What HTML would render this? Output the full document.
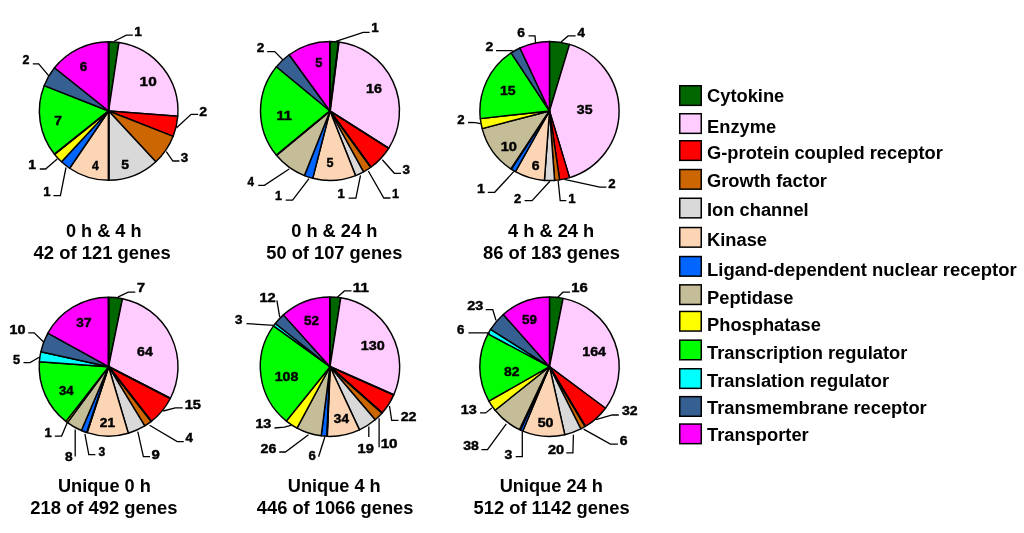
<!DOCTYPE html>
<html><head><meta charset="utf-8"><style>
html,body{margin:0;padding:0;background:#fff;overflow:hidden;}
svg{display:block;}
path{stroke:#000;stroke-width:1.45;stroke-linejoin:round;}
.sq{stroke:#000;stroke-width:1.5;}
.tk{stroke:#000;stroke-width:2.0;}
.ld{fill:none;stroke:#000;stroke-width:1.3;}
text{font-family:"Liberation Sans",sans-serif;font-weight:bold;fill:#000;}
.n{font-size:13.2px;stroke:#000;stroke-width:0.45;}
.ti{font-size:18.8px;}
.lg{font-size:18.8px;}
</style></head><body>
<svg width="1024" height="533" viewBox="0 0 1024 533">
<path d="M108.65,111.00L108.65,41.70A69.30,69.30 0 0 1 118.98,42.47Z" fill="#006600"/>
<path d="M108.65,111.00L118.98,42.47A69.30,69.30 0 0 1 177.76,116.18Z" fill="#FFCCFF"/>
<path d="M108.65,111.00L177.76,116.18A69.30,69.30 0 0 1 173.16,136.32Z" fill="#FF0000"/>
<path d="M108.65,111.00L173.16,136.32A69.30,69.30 0 0 1 155.79,161.80Z" fill="#CC6600"/>
<path d="M108.65,111.00L155.79,161.80A69.30,69.30 0 0 1 108.65,180.30Z" fill="#D9D9D9"/>
<path d="M108.65,111.00L108.65,180.30A69.30,69.30 0 0 1 69.61,168.26Z" fill="#FCD5B5"/>
<path d="M108.65,111.00L69.61,168.26A69.30,69.30 0 0 1 61.51,161.80Z" fill="#0066FF"/>
<path d="M108.65,111.00L61.51,161.80A69.30,69.30 0 0 1 54.47,154.21Z" fill="#FFFF00"/>
<path d="M108.65,111.00L54.47,154.21A69.30,69.30 0 0 1 44.14,85.68Z" fill="#00FF00"/>
<path d="M108.65,111.00L44.14,85.68A69.30,69.30 0 0 1 54.47,67.79Z" fill="#376092"/>
<path d="M108.65,111.00L54.47,67.79A69.30,69.30 0 0 1 108.65,41.70Z" fill="#FF00FF"/>
<line x1="108.65" y1="111.00" x2="108.65" y2="41.70" class="tk"/>
<line x1="108.65" y1="111.00" x2="108.65" y2="180.30" class="tk"/>
<line x1="108.65" y1="111.00" x2="54.49" y2="154.23" class="tk"/>
<text class="n" x="139.64" y="85.80" textLength="17.08" lengthAdjust="spacingAndGlyphs">10</text>
<text class="n" x="121.38" y="169.10" textLength="7.77" lengthAdjust="spacingAndGlyphs">5</text>
<text class="n" x="91.90" y="170.00" textLength="6.82" lengthAdjust="spacingAndGlyphs">4</text>
<text class="n" x="54.31" y="125.00" textLength="7.75" lengthAdjust="spacingAndGlyphs">7</text>
<text class="n" x="79.88" y="70.70" textLength="7.45" lengthAdjust="spacingAndGlyphs">6</text>
<polyline class="ld" points="114.10,41.25 126.40,35.20 132.80,35.20"/>
<text class="n" x="134.35" y="35.70" textLength="7.59" lengthAdjust="spacingAndGlyphs">1</text>
<polyline class="ld" points="176.60,127.80 191.10,114.30 198.20,114.30"/>
<text class="n" x="199.26" y="115.60" textLength="7.79" lengthAdjust="spacingAndGlyphs">2</text>
<polyline class="ld" points="166.30,151.60 172.90,161.00 179.50,161.00"/>
<text class="n" x="180.79" y="161.90" textLength="7.44" lengthAdjust="spacingAndGlyphs">3</text>
<polyline class="ld" points="66.00,167.50 60.40,195.60 53.40,195.60"/>
<text class="n" x="43.28" y="195.60" textLength="7.30" lengthAdjust="spacingAndGlyphs">1</text>
<polyline class="ld" points="57.20,159.10 45.60,169.00 39.75,169.00"/>
<text class="n" x="28.23" y="169.40" textLength="7.71" lengthAdjust="spacingAndGlyphs">1</text>
<polyline class="ld" points="48.60,75.70 38.70,63.80 32.80,63.80"/>
<text class="n" x="22.51" y="64.00" textLength="6.90" lengthAdjust="spacingAndGlyphs">2</text>
<text class="ti" x="65.99" y="236.75" textLength="75.58" lengthAdjust="spacingAndGlyphs">0 h &amp; 4 h</text>
<text class="ti" x="33.60" y="258.75" textLength="137.15" lengthAdjust="spacingAndGlyphs">42 of 121 genes</text>
<path d="M330.00,111.00L330.00,41.50A69.50,69.50 0 0 1 338.71,42.05Z" fill="#006600"/>
<path d="M330.00,111.00L338.71,42.05A69.50,69.50 0 0 1 388.68,148.24Z" fill="#FFCCFF"/>
<path d="M330.00,111.00L388.68,148.24A69.50,69.50 0 0 1 370.85,167.23Z" fill="#FF0000"/>
<path d="M330.00,111.00L370.85,167.23A69.50,69.50 0 0 1 363.48,171.90Z" fill="#CC6600"/>
<path d="M330.00,111.00L363.48,171.90A69.50,69.50 0 0 1 355.58,175.62Z" fill="#D9D9D9"/>
<path d="M330.00,111.00L355.58,175.62A69.50,69.50 0 0 1 312.72,178.32Z" fill="#FCD5B5"/>
<path d="M330.00,111.00L312.72,178.32A69.50,69.50 0 0 1 304.42,175.62Z" fill="#0066FF"/>
<path d="M330.00,111.00L304.42,175.62A69.50,69.50 0 0 1 276.45,155.30Z" fill="#C4BD97"/>
<path d="M330.00,111.00L276.45,155.30A69.50,69.50 0 0 1 276.45,66.70Z" fill="#00FF00"/>
<path d="M330.00,111.00L276.45,66.70A69.50,69.50 0 0 1 289.15,54.77Z" fill="#376092"/>
<path d="M330.00,111.00L289.15,54.77A69.50,69.50 0 0 1 330.00,41.50Z" fill="#FF00FF"/>
<line x1="330.00" y1="111.00" x2="330.00" y2="41.50" class="tk"/>
<line x1="330.00" y1="111.00" x2="338.71" y2="42.05" class="tk"/>
<line x1="330.00" y1="111.00" x2="388.68" y2="148.24" class="tk"/>
<line x1="330.00" y1="111.00" x2="370.85" y2="167.23" class="tk"/>
<line x1="330.00" y1="111.00" x2="276.45" y2="155.30" class="tk"/>
<text class="n" x="366.01" y="93.40" textLength="15.85" lengthAdjust="spacingAndGlyphs">16</text>
<text class="n" x="326.50" y="166.60" textLength="7.01" lengthAdjust="spacingAndGlyphs">5</text>
<text class="n" x="276.59" y="119.70" textLength="15.37" lengthAdjust="spacingAndGlyphs">11</text>
<text class="n" x="315.20" y="67.20" textLength="7.12" lengthAdjust="spacingAndGlyphs">5</text>
<polyline class="ld" points="335.90,41.30 363.20,32.30 369.70,32.30"/>
<text class="n" x="371.36" y="31.50" textLength="7.47" lengthAdjust="spacingAndGlyphs">1</text>
<polyline class="ld" points="382.30,159.80 394.30,173.30 401.00,173.30"/>
<text class="n" x="402.59" y="173.70" textLength="7.44" lengthAdjust="spacingAndGlyphs">3</text>
<polyline class="ld" points="368.30,171.00 383.80,198.00 390.50,198.00"/>
<text class="n" x="392.00" y="198.30" textLength="7.12" lengthAdjust="spacingAndGlyphs">1</text>
<polyline class="ld" points="360.50,175.30 355.90,198.10 348.60,198.10"/>
<text class="n" x="337.59" y="198.10" textLength="7.24" lengthAdjust="spacingAndGlyphs">1</text>
<polyline class="ld" points="309.00,178.70 292.60,200.20 285.70,200.20"/>
<text class="n" x="274.91" y="200.20" textLength="7.00" lengthAdjust="spacingAndGlyphs">1</text>
<polyline class="ld" points="289.20,169.00 264.40,185.40 258.20,185.40"/>
<text class="n" x="247.50" y="186.30" textLength="6.53" lengthAdjust="spacingAndGlyphs">4</text>
<polyline class="ld" points="282.80,59.70 274.70,51.60 267.20,51.60"/>
<text class="n" x="256.83" y="52.20" textLength="7.51" lengthAdjust="spacingAndGlyphs">2</text>
<text class="ti" x="291.18" y="236.75" textLength="86.20" lengthAdjust="spacingAndGlyphs">0 h &amp; 24 h</text>
<text class="ti" x="266.31" y="258.75" textLength="136.13" lengthAdjust="spacingAndGlyphs">50 of 107 genes</text>
<path d="M549.50,111.00L549.50,41.40A69.60,69.60 0 0 1 569.55,44.35Z" fill="#006600"/>
<path d="M549.50,111.00L569.55,44.35A69.60,69.60 0 0 1 569.55,177.65Z" fill="#FFCCFF"/>
<path d="M549.50,111.00L569.55,177.65A69.60,69.60 0 0 1 559.63,179.86Z" fill="#FF0000"/>
<path d="M549.50,111.00L559.63,179.86A69.60,69.60 0 0 1 554.58,180.41Z" fill="#CC6600"/>
<path d="M549.50,111.00L554.58,180.41A69.60,69.60 0 0 1 544.42,180.41Z" fill="#D9D9D9"/>
<path d="M549.50,111.00L544.42,180.41A69.60,69.60 0 0 1 515.44,171.69Z" fill="#FCD5B5"/>
<path d="M549.50,111.00L515.44,171.69A69.60,69.60 0 0 1 511.10,169.05Z" fill="#0066FF"/>
<path d="M549.50,111.00L511.10,169.05A69.60,69.60 0 0 1 482.16,128.60Z" fill="#C4BD97"/>
<path d="M549.50,111.00L482.16,128.60A69.60,69.60 0 0 1 480.32,118.61Z" fill="#FFFF00"/>
<path d="M549.50,111.00L480.32,118.61A69.60,69.60 0 0 1 511.10,52.95Z" fill="#00FF00"/>
<path d="M549.50,111.00L511.10,52.95A69.60,69.60 0 0 1 519.96,47.98Z" fill="#376092"/>
<path d="M549.50,111.00L519.96,47.98A69.60,69.60 0 0 1 549.50,41.40Z" fill="#FF00FF"/>
<line x1="549.50" y1="111.00" x2="511.09" y2="169.04" class="tk"/>
<text class="n" x="576.88" y="114.40" textLength="15.67" lengthAdjust="spacingAndGlyphs">35</text>
<text class="n" x="531.76" y="170.00" textLength="7.79" lengthAdjust="spacingAndGlyphs">6</text>
<text class="n" x="500.69" y="151.00" textLength="16.20" lengthAdjust="spacingAndGlyphs">10</text>
<text class="n" x="500.02" y="94.70" textLength="15.63" lengthAdjust="spacingAndGlyphs">15</text>
<polyline class="ld" points="561.00,42.10 568.10,35.90 575.60,35.90"/>
<text class="n" x="577.50" y="36.90" textLength="7.42" lengthAdjust="spacingAndGlyphs">4</text>
<polyline class="ld" points="564.30,179.40 599.80,187.20 606.40,187.20"/>
<text class="n" x="608.29" y="187.60" textLength="7.34" lengthAdjust="spacingAndGlyphs">2</text>
<polyline class="ld" points="558.10,180.40 560.20,200.60 566.30,200.60"/>
<text class="n" x="568.17" y="202.90" textLength="7.36" lengthAdjust="spacingAndGlyphs">1</text>
<polyline class="ld" points="549.90,181.20 532.10,200.60 524.60,200.60"/>
<text class="n" x="514.00" y="202.90" textLength="7.12" lengthAdjust="spacingAndGlyphs">2</text>
<polyline class="ld" points="514.40,170.90 494.70,192.30 487.80,192.30"/>
<text class="n" x="476.92" y="193.20" textLength="7.83" lengthAdjust="spacingAndGlyphs">1</text>
<polyline class="ld" points="480.50,123.60 475.30,122.65 468.10,122.50"/>
<text class="n" x="457.19" y="123.85" textLength="7.34" lengthAdjust="spacingAndGlyphs">2</text>
<polyline class="ld" points="513.50,52.30 512.00,50.60 496.00,50.60"/>
<text class="n" x="485.47" y="51.00" textLength="7.67" lengthAdjust="spacingAndGlyphs">2</text>
<polyline class="ld" points="535.60,42.90 535.00,35.90 528.50,35.90"/>
<text class="n" x="517.37" y="36.90" textLength="7.67" lengthAdjust="spacingAndGlyphs">6</text>
<text class="ti" x="508.00" y="236.75" textLength="86.13" lengthAdjust="spacingAndGlyphs">4 h &amp; 24 h</text>
<text class="ti" x="482.93" y="258.75" textLength="137.02" lengthAdjust="spacingAndGlyphs">86 of 183 genes</text>
<path d="M108.60,366.70L108.60,297.30A69.40,69.40 0 0 1 122.51,298.71Z" fill="#006600"/>
<path d="M108.60,366.70L122.51,298.71A69.40,69.40 0 0 1 170.30,398.47Z" fill="#FFCCFF"/>
<path d="M108.60,366.70L170.30,398.47A69.40,69.40 0 0 1 151.31,421.40Z" fill="#FF0000"/>
<path d="M108.60,366.70L151.31,421.40A69.40,69.40 0 0 1 144.73,425.95Z" fill="#CC6600"/>
<path d="M108.60,366.70L144.73,425.95A69.40,69.40 0 0 1 128.33,433.24Z" fill="#D9D9D9"/>
<path d="M108.60,366.70L128.33,433.24A69.40,69.40 0 0 1 86.96,432.64Z" fill="#FCD5B5"/>
<path d="M108.60,366.70L86.96,432.64A69.40,69.40 0 0 1 81.35,430.53Z" fill="#0066FF"/>
<path d="M108.60,366.70L81.35,430.53A69.40,69.40 0 0 1 67.48,422.61Z" fill="#C4BD97"/>
<path d="M108.60,366.70L67.48,422.61A69.40,69.40 0 0 1 65.89,421.40Z" fill="#FFFF00"/>
<path d="M108.60,366.70L65.89,421.40A69.40,69.40 0 0 1 39.38,361.70Z" fill="#00FF00"/>
<path d="M108.60,366.70L39.38,361.70A69.40,69.40 0 0 1 40.82,351.81Z" fill="#00FFFF"/>
<path d="M108.60,366.70L40.82,351.81A69.40,69.40 0 0 1 47.84,333.16Z" fill="#376092"/>
<path d="M108.60,366.70L47.84,333.16A69.40,69.40 0 0 1 108.60,297.30Z" fill="#FF00FF"/>
<line x1="108.60" y1="366.70" x2="108.60" y2="297.30" class="tk"/>
<line x1="108.60" y1="366.70" x2="170.33" y2="398.42" class="tk"/>
<line x1="108.60" y1="366.70" x2="151.33" y2="421.39" class="tk"/>
<line x1="108.60" y1="366.70" x2="86.92" y2="432.63" class="tk"/>
<text class="n" x="137.06" y="356.40" textLength="15.75" lengthAdjust="spacingAndGlyphs">64</text>
<text class="n" x="99.87" y="427.10" textLength="15.22" lengthAdjust="spacingAndGlyphs">21</text>
<text class="n" x="58.89" y="395.30" textLength="14.62" lengthAdjust="spacingAndGlyphs">34</text>
<text class="n" x="76.39" y="326.90" textLength="15.17" lengthAdjust="spacingAndGlyphs">37</text>
<polyline class="ld" points="117.80,297.20 128.20,292.20 135.30,292.20"/>
<text class="n" x="137.05" y="292.20" textLength="8.04" lengthAdjust="spacingAndGlyphs">7</text>
<polyline class="ld" points="163.10,411.00 175.30,407.80 182.80,407.80"/>
<text class="n" x="184.69" y="409.10" textLength="16.28" lengthAdjust="spacingAndGlyphs">15</text>
<polyline class="ld" points="149.60,425.25 177.20,441.60 183.75,441.60"/>
<text class="n" x="185.60" y="442.10" textLength="7.42" lengthAdjust="spacingAndGlyphs">4</text>
<polyline class="ld" points="137.80,431.60 143.40,456.60 150.00,456.60"/>
<text class="n" x="151.43" y="459.00" textLength="8.34" lengthAdjust="spacingAndGlyphs">9</text>
<polyline class="ld" points="84.90,433.90 88.80,454.70 95.40,454.70"/>
<text class="n" x="98.46" y="455.50" textLength="6.74" lengthAdjust="spacingAndGlyphs">3</text>
<polyline class="ld" points="75.20,429.40 75.20,456.60"/>
<text class="n" x="65.07" y="460.50" textLength="7.67" lengthAdjust="spacingAndGlyphs">8</text>
<polyline class="ld" points="67.20,422.80 61.60,436.10 54.80,436.10"/>
<text class="n" x="44.39" y="436.70" textLength="7.24" lengthAdjust="spacingAndGlyphs">1</text>
<polyline class="ld" points="39.80,357.00 30.00,362.60 23.50,362.60"/>
<text class="n" x="12.90" y="363.50" textLength="7.12" lengthAdjust="spacingAndGlyphs">5</text>
<polyline class="ld" points="43.60,342.00 34.20,332.90 28.20,332.90"/>
<text class="n" x="9.40" y="333.90" textLength="15.98" lengthAdjust="spacingAndGlyphs">10</text>
<text class="ti" x="57.95" y="492.00" textLength="92.83" lengthAdjust="spacingAndGlyphs">Unique 0 h</text>
<text class="ti" x="30.22" y="513.70" textLength="147.32" lengthAdjust="spacingAndGlyphs">218 of 492 genes</text>
<path d="M330.00,366.70L330.00,297.00A69.70,69.70 0 0 1 340.76,297.84Z" fill="#006600"/>
<path d="M330.00,366.70L340.76,297.84A69.70,69.70 0 0 1 393.77,394.84Z" fill="#FFCCFF"/>
<path d="M330.00,366.70L393.77,394.84A69.70,69.70 0 0 1 382.15,412.95Z" fill="#FF0000"/>
<path d="M330.00,366.70L382.15,412.95A69.70,69.70 0 0 1 375.14,419.81Z" fill="#CC6600"/>
<path d="M330.00,366.70L375.14,419.81A69.70,69.70 0 0 1 359.48,429.86Z" fill="#D9D9D9"/>
<path d="M330.00,366.70L359.48,429.86A69.70,69.70 0 0 1 327.06,436.34Z" fill="#FCD5B5"/>
<path d="M330.00,366.70L327.06,436.34A69.70,69.70 0 0 1 321.19,435.84Z" fill="#0066FF"/>
<path d="M330.00,366.70L321.19,435.84A69.70,69.70 0 0 1 297.01,428.10Z" fill="#C4BD97"/>
<path d="M330.00,366.70L297.01,428.10A69.70,69.70 0 0 1 286.38,421.06Z" fill="#FFFF00"/>
<path d="M330.00,366.70L286.38,421.06A69.70,69.70 0 0 1 273.55,325.81Z" fill="#00FF00"/>
<path d="M330.00,366.70L273.55,325.81A69.70,69.70 0 0 1 275.33,323.46Z" fill="#00FFFF"/>
<path d="M330.00,366.70L275.33,323.46A69.70,69.70 0 0 1 283.39,314.88Z" fill="#376092"/>
<path d="M330.00,366.70L283.39,314.88A69.70,69.70 0 0 1 330.00,297.00Z" fill="#FF00FF"/>
<line x1="330.00" y1="366.70" x2="330.00" y2="297.00" class="tk"/>
<line x1="330.00" y1="366.70" x2="393.77" y2="394.83" class="tk"/>
<line x1="330.00" y1="366.70" x2="382.12" y2="412.98" class="tk"/>
<line x1="330.00" y1="366.70" x2="327.08" y2="436.34" class="tk"/>
<text class="n" x="360.80" y="349.80" textLength="23.98" lengthAdjust="spacingAndGlyphs">130</text>
<text class="n" x="333.89" y="422.90" textLength="15.13" lengthAdjust="spacingAndGlyphs">34</text>
<text class="n" x="274.71" y="381.00" textLength="23.64" lengthAdjust="spacingAndGlyphs">108</text>
<text class="n" x="303.99" y="325.10" textLength="14.94" lengthAdjust="spacingAndGlyphs">52</text>
<polyline class="ld" points="337.30,297.30 344.40,290.90 351.50,290.90"/>
<text class="n" x="352.86" y="292.20" textLength="15.92" lengthAdjust="spacingAndGlyphs">11</text>
<polyline class="ld" points="389.50,406.00 391.70,420.40 398.50,420.40"/>
<text class="n" x="400.66" y="421.00" textLength="15.80" lengthAdjust="spacingAndGlyphs">22</text>
<polyline class="ld" points="379.10,418.20 379.10,447.30"/>
<text class="n" x="380.65" y="448.20" textLength="16.97" lengthAdjust="spacingAndGlyphs">10</text>
<polyline class="ld" points="368.80,426.60 368.80,437.00"/>
<text class="n" x="357.59" y="452.90" textLength="16.28" lengthAdjust="spacingAndGlyphs">19</text>
<polyline class="ld" points="324.80,437.00 318.60,456.70"/>
<text class="n" x="308.39" y="459.50" textLength="7.34" lengthAdjust="spacingAndGlyphs">6</text>
<polyline class="ld" points="308.50,434.70 285.40,452.00 279.20,452.00"/>
<text class="n" x="260.56" y="452.90" textLength="15.80" lengthAdjust="spacingAndGlyphs">26</text>
<polyline class="ld" points="291.00,425.30 284.40,427.20 274.50,428.00"/>
<text class="n" x="255.41" y="428.00" textLength="15.85" lengthAdjust="spacingAndGlyphs">13</text>
<polyline class="ld" points="274.10,325.40 246.50,323.60"/>
<text class="n" x="235.09" y="324.10" textLength="7.44" lengthAdjust="spacingAndGlyphs">3</text>
<polyline class="ld" points="279.70,317.20 276.90,300.30"/>
<text class="n" x="259.49" y="301.60" textLength="16.28" lengthAdjust="spacingAndGlyphs">12</text>
<text class="ti" x="287.85" y="492.00" textLength="92.88" lengthAdjust="spacingAndGlyphs">Unique 4 h</text>
<text class="ti" x="256.80" y="513.70" textLength="156.64" lengthAdjust="spacingAndGlyphs">446 of 1066 genes</text>
<path d="M549.50,366.70L549.50,297.00A69.70,69.70 0 0 1 563.10,298.34Z" fill="#006600"/>
<path d="M549.50,366.70L563.10,298.34A69.70,69.70 0 0 1 605.48,408.22Z" fill="#FFCCFF"/>
<path d="M549.50,366.70L605.48,408.22A69.70,69.70 0 0 1 585.33,426.48Z" fill="#FF0000"/>
<path d="M549.50,366.70L585.33,426.48A69.70,69.70 0 0 1 580.84,428.96Z" fill="#CC6600"/>
<path d="M549.50,366.70L580.84,428.96A69.70,69.70 0 0 1 564.77,434.71Z" fill="#D9D9D9"/>
<path d="M549.50,366.70L564.77,434.71A69.70,69.70 0 0 1 522.83,431.09Z" fill="#FCD5B5"/>
<path d="M549.50,366.70L522.83,431.09A69.70,69.70 0 0 1 520.47,430.07Z" fill="#0066FF"/>
<path d="M549.50,366.70L520.47,430.07A69.70,69.70 0 0 1 495.08,410.25Z" fill="#C4BD97"/>
<path d="M549.50,366.70L495.08,410.25A69.70,69.70 0 0 1 488.85,401.06Z" fill="#FFFF00"/>
<path d="M549.50,366.70L488.85,401.06A69.70,69.70 0 0 1 488.03,333.84Z" fill="#00FF00"/>
<path d="M549.50,366.70L488.03,333.84A69.70,69.70 0 0 1 490.61,329.41Z" fill="#00FFFF"/>
<path d="M549.50,366.70L490.61,329.41A69.70,69.70 0 0 1 503.33,314.49Z" fill="#376092"/>
<path d="M549.50,366.70L503.33,314.49A69.70,69.70 0 0 1 549.50,297.00Z" fill="#FF00FF"/>
<line x1="549.50" y1="366.70" x2="585.29" y2="426.51" class="tk"/>
<line x1="549.50" y1="366.70" x2="519.71" y2="429.71" class="tk"/>
<text class="n" x="582.31" y="356.00" textLength="23.70" lengthAdjust="spacingAndGlyphs">164</text>
<text class="n" x="537.68" y="427.20" textLength="15.80" lengthAdjust="spacingAndGlyphs">50</text>
<text class="n" x="503.97" y="376.10" textLength="15.48" lengthAdjust="spacingAndGlyphs">82</text>
<text class="n" x="522.09" y="323.60" textLength="14.94" lengthAdjust="spacingAndGlyphs">59</text>
<polyline class="ld" points="557.80,297.30 562.90,292.20 570.00,292.20"/>
<text class="n" x="571.37" y="292.40" textLength="16.50" lengthAdjust="spacingAndGlyphs">16</text>
<polyline class="ld" points="595.90,419.70 612.30,415.00 618.80,415.00"/>
<text class="n" x="621.98" y="415.40" textLength="15.57" lengthAdjust="spacingAndGlyphs">32</text>
<polyline class="ld" points="583.60,429.10 610.40,444.10 617.90,444.10"/>
<text class="n" x="619.86" y="445.40" textLength="7.79" lengthAdjust="spacingAndGlyphs">6</text>
<polyline class="ld" points="573.40,434.70 572.90,452.90 566.30,452.90"/>
<text class="n" x="547.95" y="453.90" textLength="16.14" lengthAdjust="spacingAndGlyphs">20</text>
<polyline class="ld" points="522.30,431.30 522.30,456.70 515.70,456.70"/>
<text class="n" x="504.58" y="458.60" textLength="7.77" lengthAdjust="spacingAndGlyphs">3</text>
<polyline class="ld" points="506.30,423.80 487.50,449.70 481.50,449.70"/>
<text class="n" x="463.28" y="450.10" textLength="15.57" lengthAdjust="spacingAndGlyphs">38</text>
<polyline class="ld" points="491.70,407.90 485.70,412.90 480.00,412.90"/>
<text class="n" x="460.70" y="413.50" textLength="15.95" lengthAdjust="spacingAndGlyphs">13</text>
<polyline class="ld" points="489.80,333.50 488.50,332.90 468.40,332.90"/>
<text class="n" x="457.09" y="333.50" textLength="7.34" lengthAdjust="spacingAndGlyphs">6</text>
<polyline class="ld" points="496.00,320.40 492.80,309.70 485.70,309.70"/>
<text class="n" x="467.35" y="310.00" textLength="15.90" lengthAdjust="spacingAndGlyphs">23</text>
<text class="ti" x="499.65" y="492.00" textLength="103.23" lengthAdjust="spacingAndGlyphs">Unique 24 h</text>
<text class="ti" x="473.46" y="513.70" textLength="156.18" lengthAdjust="spacingAndGlyphs">512 of 1142 genes</text>
<rect x="679.75" y="85.75" width="21.5" height="19.6" fill="#006600" class="sq"/>
<text class="lg" x="707.00" y="102.00" textLength="77.28" lengthAdjust="spacingAndGlyphs">Cytokine</text>
<rect x="679.75" y="113.75" width="21.5" height="19.6" fill="#FFCCFF" class="sq"/>
<text class="lg" x="707.00" y="132.60" textLength="69.16" lengthAdjust="spacingAndGlyphs">Enzyme</text>
<rect x="679.75" y="140.75" width="21.5" height="19.6" fill="#FF0000" class="sq"/>
<text class="lg" x="707.00" y="159.40" textLength="235.89" lengthAdjust="spacingAndGlyphs">G-protein coupled receptor</text>
<rect x="679.75" y="169.55" width="21.5" height="19.6" fill="#CC6600" class="sq"/>
<text class="lg" x="707.00" y="187.40" textLength="119.97" lengthAdjust="spacingAndGlyphs">Growth factor</text>
<rect x="679.75" y="198.25" width="21.5" height="19.6" fill="#D9D9D9" class="sq"/>
<text class="lg" x="707.00" y="216.00" textLength="101.68" lengthAdjust="spacingAndGlyphs">Ion channel</text>
<rect x="679.75" y="227.55" width="21.5" height="19.6" fill="#FCD5B5" class="sq"/>
<text class="lg" x="707.00" y="245.70" textLength="60.01" lengthAdjust="spacingAndGlyphs">Kinase</text>
<rect x="679.75" y="256.55" width="21.5" height="19.6" fill="#0066FF" class="sq"/>
<text class="lg" x="706.99" y="275.60" textLength="309.67" lengthAdjust="spacingAndGlyphs">Ligand-dependent nuclear receptor</text>
<rect x="679.75" y="284.85" width="21.5" height="19.6" fill="#C4BD97" class="sq"/>
<text class="lg" x="707.00" y="303.80" textLength="86.45" lengthAdjust="spacingAndGlyphs">Peptidase</text>
<rect x="679.75" y="311.45" width="21.5" height="19.6" fill="#FFFF00" class="sq"/>
<text class="lg" x="707.00" y="330.80" textLength="113.90" lengthAdjust="spacingAndGlyphs">Phosphatase</text>
<rect x="679.75" y="340.15" width="21.5" height="19.6" fill="#00FF00" class="sq"/>
<text class="lg" x="707.00" y="359.20" textLength="200.32" lengthAdjust="spacingAndGlyphs">Transcription regulator</text>
<rect x="679.75" y="368.75" width="21.5" height="19.6" fill="#00FFFF" class="sq"/>
<text class="lg" x="707.00" y="386.50" textLength="182.02" lengthAdjust="spacingAndGlyphs">Translation regulator</text>
<rect x="679.75" y="396.65" width="21.5" height="19.6" fill="#376092" class="sq"/>
<text class="lg" x="707.00" y="414.00" textLength="219.69" lengthAdjust="spacingAndGlyphs">Transmembrane receptor</text>
<rect x="679.75" y="424.05" width="21.5" height="19.6" fill="#FF00FF" class="sq"/>
<text class="lg" x="707.00" y="441.30" textLength="101.70" lengthAdjust="spacingAndGlyphs">Transporter</text>
</svg>
</body></html>
